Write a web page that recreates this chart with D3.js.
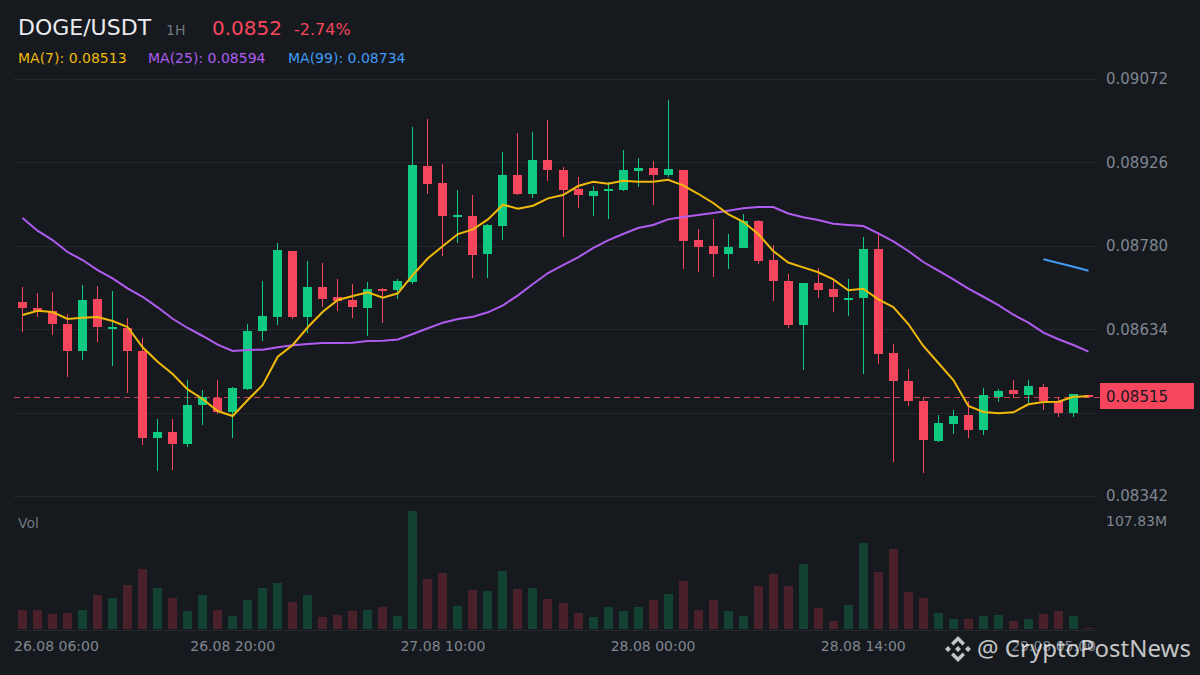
<!DOCTYPE html>
<html>
<head>
<meta charset="utf-8">
<style>
  html, body { margin: 0; padding: 0; background: #161a1e; }
  text { font-family: "DejaVu Sans", sans-serif; }
  .axis path { display: none; }
  .axis text { fill: #7f8691; }
</style>
</head>
<body>
<div id="chart"></div>
<script src="https://cdn.jsdelivr.net/npm/d3@7"></script>
<script>
// candles, oldest first (1H)
var opens = [0.08682,0.08671,0.08666,0.08643,0.08596,0.08687,0.08634,0.08636,0.08596,0.08444,0.08454,0.08433,0.08501,0.08514,0.08489,0.08529,0.08631,0.08655,0.08771,0.08655,0.08708,0.08690,0.08685,0.08671,0.08704,0.08703,0.08716,0.08920,0.08890,0.08830,0.08832,0.08766,0.08815,0.08904,0.08871,0.08930,0.08913,0.08880,0.08867,0.08876,0.08878,0.08911,0.08916,0.08904,0.08913,0.08790,0.08779,0.08766,0.08776,0.08823,0.08755,0.08718,0.08641,0.08715,0.08704,0.08685,0.08689,0.08774,0.08592,0.08543,0.08508,0.08438,0.08468,0.08484,0.08458,0.08515,0.08528,0.08519,0.08533,0.08508,0.08487,0.08519];
var highs = [0.08708,0.08697,0.08699,0.08661,0.08711,0.08710,0.08701,0.08654,0.08619,0.08477,0.08477,0.08545,0.08528,0.08545,0.08533,0.08643,0.08718,0.08785,0.08771,0.08753,0.08750,0.08722,0.08713,0.08716,0.08706,0.08722,0.08988,0.09002,0.08923,0.08878,0.08869,0.08818,0.08944,0.08977,0.08979,0.09000,0.08918,0.08900,0.08885,0.08892,0.08948,0.08934,0.08928,0.09035,0.08913,0.08809,0.08827,0.08801,0.08836,0.08825,0.08781,0.08731,0.08715,0.08741,0.08718,0.08722,0.08795,0.08801,0.08608,0.08564,0.08515,0.08484,0.08493,0.08508,0.08531,0.08529,0.08545,0.08545,0.08538,0.08515,0.08520,0.08519];
var lows = [0.08629,0.08655,0.08624,0.08550,0.08580,0.08612,0.08570,0.08522,0.08431,0.08386,0.08388,0.08428,0.08466,0.08486,0.08444,0.08528,0.08613,0.08641,0.08652,0.08627,0.08673,0.08666,0.08654,0.08622,0.08645,0.08687,0.08713,0.08871,0.08762,0.08785,0.08724,0.08724,0.08790,0.08869,0.08864,0.08893,0.08795,0.08846,0.08832,0.08827,0.08876,0.08883,0.08851,0.08900,0.08739,0.08734,0.08725,0.08739,0.08776,0.08748,0.08683,0.08636,0.08563,0.08689,0.08664,0.08657,0.08556,0.08573,0.08402,0.08500,0.08382,0.08436,0.08450,0.08444,0.08449,0.08506,0.08514,0.08505,0.08493,0.08480,0.08480,0.08515];
var closes = [0.08671,0.08666,0.08643,0.08596,0.08685,0.08638,0.08638,0.08596,0.08444,0.08454,0.08433,0.08501,0.08515,0.08489,0.08531,0.08631,0.08657,0.08773,0.08655,0.08708,0.08687,0.08683,0.08673,0.08704,0.08701,0.08718,0.08922,0.08888,0.08832,0.08834,0.08764,0.08816,0.08904,0.08871,0.08930,0.08913,0.08878,0.08869,0.08876,0.08880,0.08913,0.08916,0.08904,0.08914,0.08788,0.08778,0.08766,0.08778,0.08823,0.08753,0.08718,0.08641,0.08715,0.08703,0.08690,0.08689,0.08774,0.08591,0.08543,0.08508,0.08440,0.08470,0.08482,0.08458,0.08519,0.08526,0.08520,0.08535,0.08508,0.08487,0.08520,0.08515];
// volume in millions
var volumes = [17.7,17.7,14.0,14.9,17.7,31.4,28.6,40.5,55.1,37.8,28.6,16.8,31.4,17.7,12.2,26.8,37.8,42.3,25.0,31.4,11.3,13.1,16.8,17.7,20.4,12.2,107.83,46.0,51.5,21.3,35.9,35.0,53.3,36.9,37.8,27.7,24.1,14.9,11.3,20.4,16.8,20.4,26.8,32.3,44.2,17.7,26.8,16.8,12.2,39.6,50.6,39.6,59.7,19.5,7.6,22.2,78.9,52.4,73.4,34.1,28.6,14.9,9.4,9.4,12.2,13.1,7.6,9.4,14.0,16.8,12.2,1.2];

var ma7 = [0.086589,0.086664,0.086641,0.086519,0.086542,0.086554,0.086484,0.086379,0.086023,0.085770,0.085555,0.085287,0.085118,0.084908,0.084820,0.085100,0.085363,0.085858,0.086064,0.086374,0.086646,0.086851,0.086921,0.086986,0.086891,0.086968,0.087289,0.087581,0.087796,0.088006,0.088088,0.088263,0.088519,0.088449,0.088501,0.088631,0.088689,0.088846,0.088921,0.088886,0.088939,0.088921,0.088921,0.088956,0.088858,0.088711,0.088549,0.088356,0.088221,0.088006,0.087709,0.087507,0.087423,0.087336,0.087213,0.087021,0.087049,0.086863,0.086728,0.086431,0.086046,0.085748,0.085450,0.084995,0.084890,0.084867,0.084885,0.085025,0.085065,0.085070,0.085158,0.085165];
var ma25 = [0.088286,0.088064,0.087901,0.087691,0.087551,0.087376,0.087231,0.087056,0.086908,0.086723,0.086523,0.086361,0.086221,0.086069,0.085959,0.085976,0.085981,0.086023,0.086058,0.086081,0.086099,0.086099,0.086104,0.086134,0.086139,0.086160,0.086256,0.086356,0.086454,0.086519,0.086559,0.086636,0.086758,0.086933,0.087131,0.087324,0.087463,0.087598,0.087761,0.087896,0.088006,0.088111,0.088164,0.088263,0.088304,0.088339,0.088374,0.088414,0.088456,0.088479,0.088479,0.088365,0.088299,0.088251,0.088186,0.088164,0.088146,0.088018,0.087878,0.087709,0.087516,0.087364,0.087213,0.087049,0.086908,0.086763,0.086593,0.086454,0.086279,0.086164,0.086064,0.085946];
// MA(99) only has the last few candles in view
var ma99Start = 68;
var ma99 = [0.087563,0.087499,0.087434,0.087364];

var xTickIndex = [0,14,28,42,56,70];
var xTickLabels = ["26.08 06:00","26.08 20:00","27.08 10:00","28.08 00:00","28.08 14:00","29.08 05:00"];
var priceTicks = [0.09072,0.08926,0.08780,0.08634,0.08488,0.08342];
var lastPrice = 0.08515;
var maxVolume = 107.83;

var svgWidth = 1200;
var svgHeight = 675;
var gridLeft = 14;
var gridRight = 1096;

var upColor = "#0ecb81";
var downColor = "#f6465d";
var gridColor = "#25292e";
var ma7Color = "#f0b90b";
var ma25Color = "#b05cf0";
var ma99Color = "#3f9bf5";

var svg = d3.select("#chart")
  .append("svg")
  .attr("width", svgWidth)
  .attr("height", svgHeight)
  .style("display", "block")
  .style("background", "#161a1e");

var indexes = d3.range(opens.length);

var xScale = d3.scaleBand()
  .domain(indexes)
  .range([15, gridRight])
  .paddingInner(0.4)
  .paddingOuter(0.2);

var yScale = d3.scaleLinear()
  .domain([0.08342, 0.09072])
  .range([496, 79]);

var volScale = d3.scaleLinear()
  .domain([0, maxVolume])
  .range([629, 511]);

function xMid(i) {
  return xScale(i) + xScale.bandwidth() / 2;
}

function isUp(i) {
  return closes[i] >= opens[i];
}

// price axis and grid
var yAxis = svg.append("g")
  .attr("class", "axis y-axis")
  .attr("transform", `translate(${gridRight}, 0)`)
  .call(d3.axisRight(yScale)
    .tickValues(priceTicks)
    .tickFormat(d3.format(".5f"))
    .tickSize(0)
    .tickPadding(10));

yAxis.selectAll("text")
  .style("font-size", "15px")
  .style("font-family", "'DejaVu Sans'");

// the label next to the current price tag is covered, so drop it
yAxis.selectAll(".tick")
  .filter(d => d === 0.08488)
  .select("text")
  .remove();

svg.append("g")
  .selectAll("line")
  .data(priceTicks)
  .enter()
  .append("line")
  .attr("x1", gridLeft)
  .attr("x2", gridRight)
  .attr("y1", d => Math.round(yScale(d)) + 0.5)
  .attr("y2", d => Math.round(yScale(d)) + 0.5)
  .attr("stroke", gridColor);

// volume baseline
svg.append("line")
  .attr("x1", gridLeft)
  .attr("x2", gridRight)
  .attr("y1", 630.5)
  .attr("y2", 630.5)
  .attr("stroke", gridColor);

// last price dashed line
svg.append("line")
  .attr("x1", gridLeft)
  .attr("x2", 1100)
  .attr("y1", Math.round(yScale(lastPrice)) + 0.5)
  .attr("y2", Math.round(yScale(lastPrice)) + 0.5)
  .attr("stroke", downColor)
  .attr("stroke-opacity", 0.8)
  .attr("stroke-dasharray", "6 4");

// volume bars
svg.append("g")
  .attr("shape-rendering", "crispEdges")
  .selectAll("rect")
  .data(indexes)
  .enter()
  .append("rect")
  .attr("x", i => xScale(i))
  .attr("width", xScale.bandwidth())
  .attr("y", i => volScale(volumes[i]))
  .attr("height", i => volScale(0) - volScale(volumes[i]))
  .attr("fill", i => isUp(i) ? "#134232" : "#4a212a");

// wicks
svg.append("g")
  .attr("shape-rendering", "crispEdges")
  .selectAll("line")
  .data(indexes)
  .enter()
  .append("line")
  .attr("x1", i => Math.floor(xMid(i)) + 0.5)
  .attr("x2", i => Math.floor(xMid(i)) + 0.5)
  .attr("y1", i => yScale(highs[i]))
  .attr("y2", i => yScale(lows[i]))
  .attr("stroke", i => isUp(i) ? upColor : downColor);

// bodies
svg.append("g")
  .attr("shape-rendering", "crispEdges")
  .selectAll("rect")
  .data(indexes)
  .enter()
  .append("rect")
  .attr("x", i => xScale(i))
  .attr("width", xScale.bandwidth())
  .attr("y", i => yScale(Math.max(opens[i], closes[i])))
  .attr("height", i => Math.max(2, Math.abs(yScale(opens[i]) - yScale(closes[i]))))
  .attr("fill", i => isUp(i) ? upColor : downColor);

// moving averages
var maLine = d3.line()
  .x(d => xMid(d.i))
  .y(d => yScale(d.v));

function drawMa(values, start, color) {
  svg.append("path")
    .datum(values.map((v, k) => ({ i: k + start, v: v })))
    .attr("d", maLine)
    .attr("fill", "none")
    .attr("stroke", color)
    .attr("stroke-width", 2);
}

drawMa(ma25, 0, ma25Color);
drawMa(ma99, ma99Start, ma99Color);
drawMa(ma7, 0, ma7Color);

// time axis
var xAxis = svg.append("g")
  .attr("class", "axis x-axis")
  .attr("transform", "translate(0, 630)")
  .call(d3.axisBottom(xScale)
    .tickValues(xTickIndex)
    .tickFormat((d, k) => xTickLabels[k])
    .tickSize(0)
    .tickPadding(11));

xAxis.selectAll("text")
  .style("font-size", "14px")
  .style("font-family", "'DejaVu Sans'");

// first and last labels get pushed inside the plot
xAxis.selectAll(".tick")
  .filter(d => d === 0)
  .select("text")
  .attr("text-anchor", "start")
  .attr("x", gridLeft - xMid(0));

xAxis.selectAll(".tick")
  .filter(d => d === 70)
  .select("text")
  .attr("text-anchor", "end")
  .attr("x", gridRight - xMid(70));

// current price tag
svg.append("rect")
  .attr("x", 1100)
  .attr("y", 383)
  .attr("width", 94)
  .attr("height", 26)
  .attr("fill", downColor);

svg.append("text")
  .attr("x", 1106)
  .attr("y", 402)
  .attr("font-size", 15)
  .attr("fill", "#161a1e")
  .text(d3.format(".5f")(lastPrice));

// header
function label(x, y, size, color, str) {
  svg.append("text")
    .attr("x", x)
    .attr("y", y)
    .attr("font-size", size)
    .attr("fill", color)
    .text(str);
}

label(18, 35, 22, "#eaecef", "DOGE/USDT");
label(166, 35, 14, "#6f7782", "1H");
label(212, 35, 20, downColor, "0.0852");
label(294, 35, 16, downColor, "-2.74%");
label(18, 63, 14, ma7Color, "MA(7): 0.08513");
label(148, 63, 14, ma25Color, "MA(25): 0.08594");
label(288, 63, 14, ma99Color, "MA(99): 0.08734");
label(18, 528, 14, "#6f7782", "Vol");
label(1106, 526, 14, "#7f8691", "107.83M");

// watermark
var mark = svg.append("g")
  .attr("transform", "translate(958, 649)")
  .attr("fill", "#ffffff")
  .attr("fill-opacity", 0.75);

mark.append("path")
  .attr("d", "M0,-13 L7,-6 L4.5,-3.5 L0,-8 L-4.5,-3.5 L-7,-6 Z M0,13 L7,6 L4.5,3.5 L0,8 L-4.5,3.5 L-7,6 Z M-13,0 L-10,-3 L-7,0 L-10,3 Z M13,0 L10,-3 L7,0 L10,3 Z M0,-3 L3,0 L0,3 L-3,0 Z");

svg.append("text")
  .attr("x", 977)
  .attr("y", 657)
  .attr("font-size", 24)
  .attr("fill", "#ffffff")
  .attr("fill-opacity", 0.75)
  .style("font-family", "'Noto Sans'")
  .text("@ CryptoPostNews");
</script>
</body>
</html>
